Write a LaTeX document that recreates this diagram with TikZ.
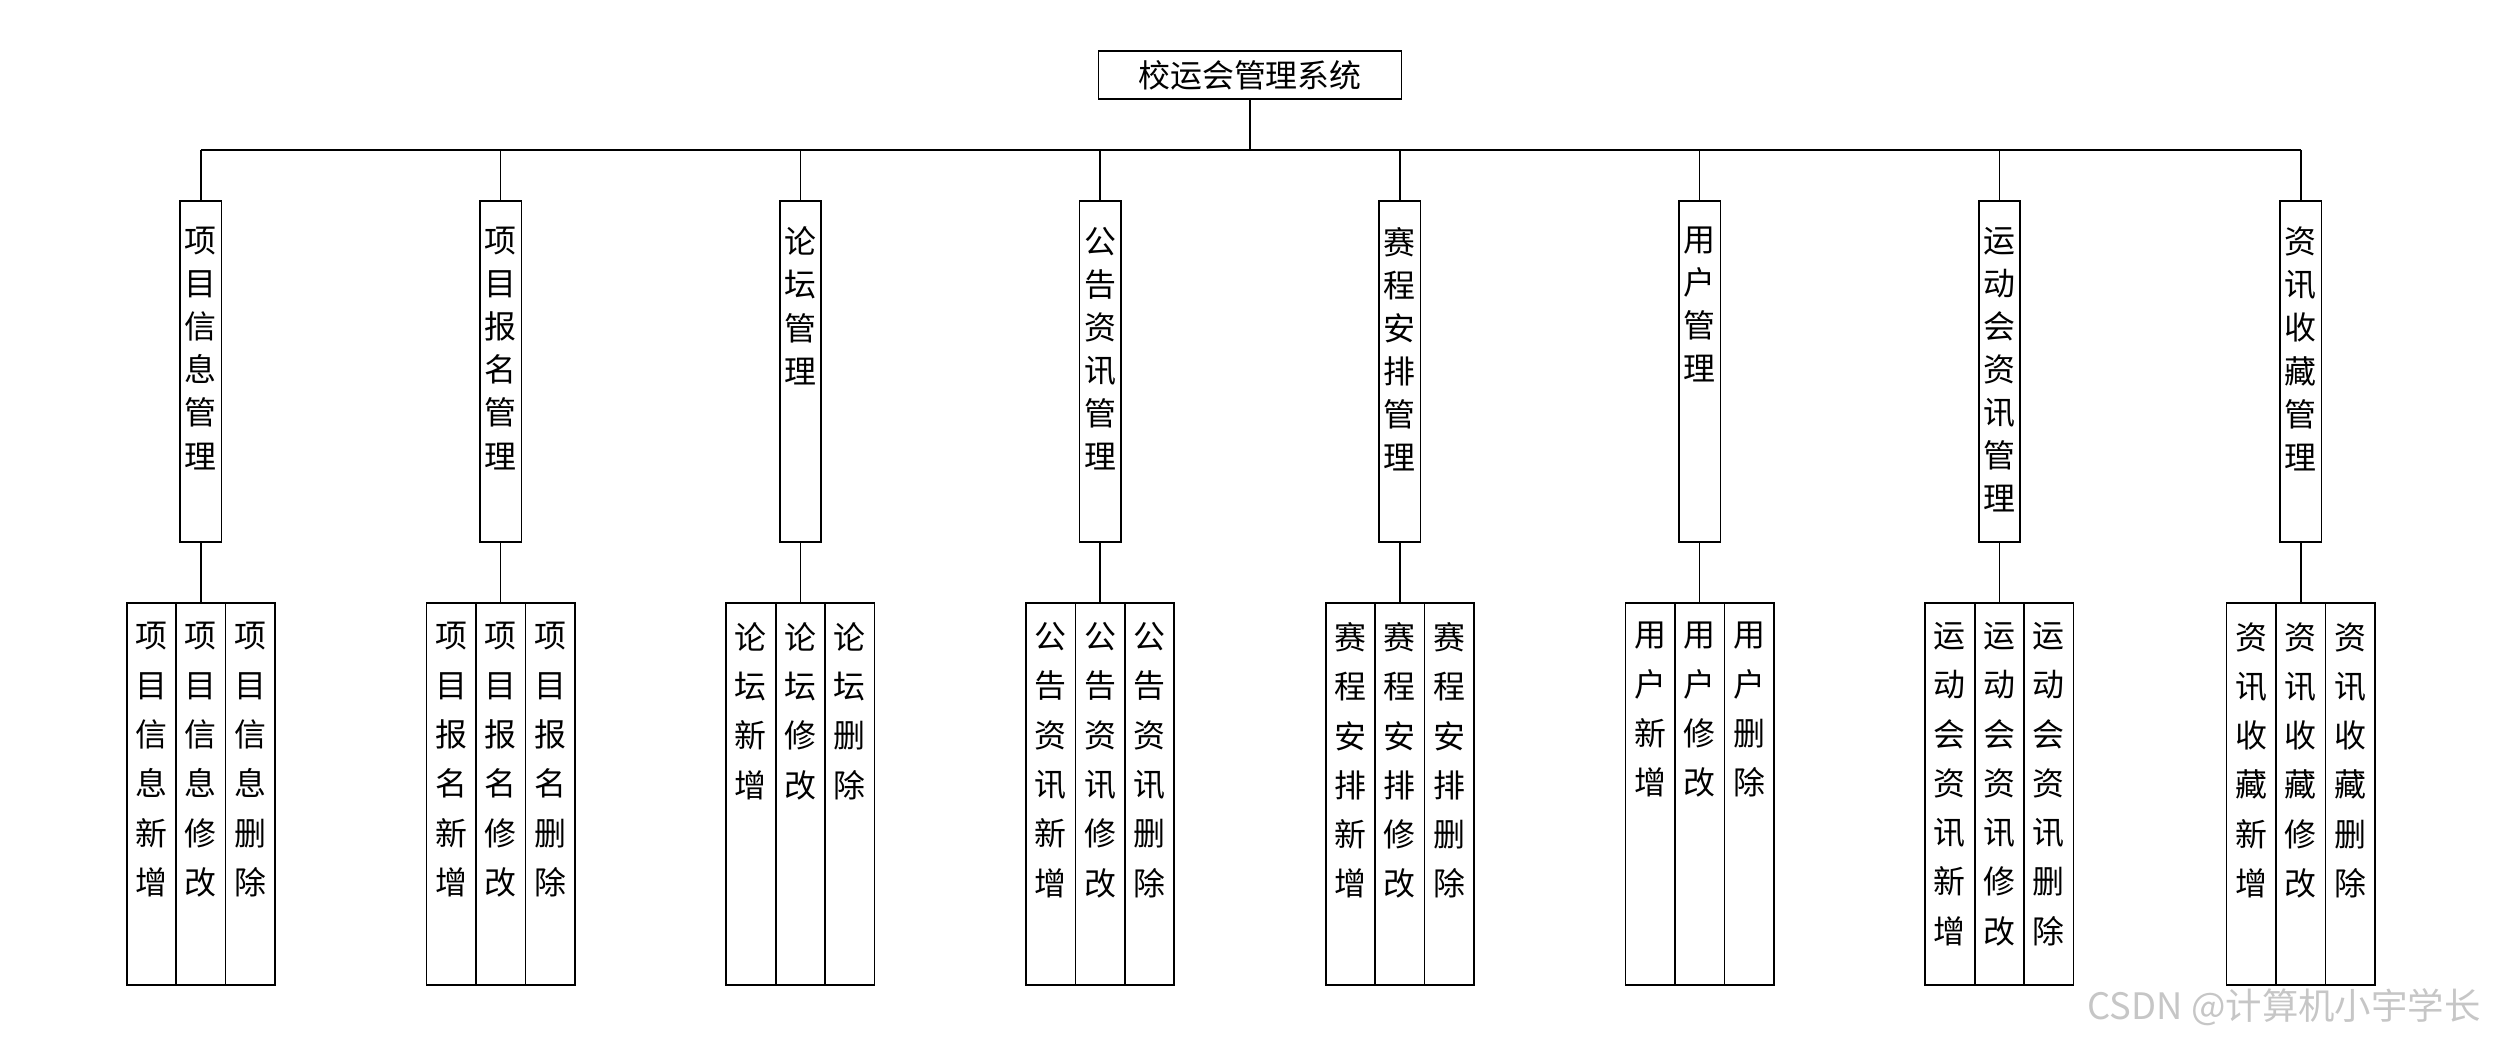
\documentclass[tikz,border=0pt]{standalone}
\usepackage{fontspec}
\setmainfont{Noto Sans CJK SC}
\newfontfamily\wmfont{Noto Sans CJK SC}
\begin{document}
\begin{tikzpicture}[x=0.02cm,y=-0.02cm,
  box/.style={draw,line width=0.6pt,inner sep=0pt},
  lone/.style={font=\fontsize{11.4}{15.4}\selectfont,align=center,inner sep=0pt,anchor=north},
  ltwo/.style={font=\fontsize{11.4}{17.6}\selectfont,align=center,inner sep=0pt,anchor=north},
  conn/.style={line width=0.6pt}]
\useasboundingbox (0,0) rectangle (1568,658);
\node[box,minimum width=190*0.02cm,minimum height=30*0.02cm,font=\fontsize{11.4}{14}\selectfont] (root) at (784,47) {校运会管理系统};
\coordinate (busL) at (126,94);
\coordinate (busR) at (1443,94);
\draw[conn] (root.south) -- (784,94);
\draw[conn] (busL) -- (busR);
\foreach \i/\x/\m/\c in {
 1/126/{项\\目\\信\\息\\管\\理}/{项\\目\\信\\息},
 2/314/{项\\目\\报\\名\\管\\理}/{项\\目\\报\\名},
 3/502/{论\\坛\\管\\理}/{论\\坛},
 4/690/{公\\告\\资\\讯\\管\\理}/{公\\告\\资\\讯},
 5/878/{赛\\程\\安\\排\\管\\理}/{赛\\程\\安\\排},
 6/1066/{用\\户\\管\\理}/{用\\户},
 7/1254/{运\\动\\会\\资\\讯\\管\\理}/{运\\动\\会\\资\\讯},
 8/1443/{资\\讯\\收\\藏\\管\\理}/{资\\讯\\收\\藏}}{
  \coordinate (t\i) at (\x,94);
  \node[box,minimum width=26*0.02cm,minimum height=214*0.02cm] (m\i) at (\x,233) {};
  \node[lone] at (\x,142) {\m};
  \draw[conn] (t\i) -- (m\i.north);
  \coordinate (g\i) at (\x,378);
  \draw[conn] (m\i.south) -- (g\i);
  \foreach \k/\dx/\s in {1/-31/{新\\增},2/0/{修\\改},3/31/{删\\除}}{
    \node[box,minimum width=31*0.02cm,minimum height=240*0.02cm] (c\i-\k) at (\x+\dx,498) {};
    \node[ltwo] at (\x+\dx,390) {\c\\\s};
  }
}
\node[text=gray!45,font=\fontsize{13}{15}\selectfont,anchor=east] (wm) at (1562,632) {CSDN @计算机小宇学长};
\end{tikzpicture}
\end{document}
